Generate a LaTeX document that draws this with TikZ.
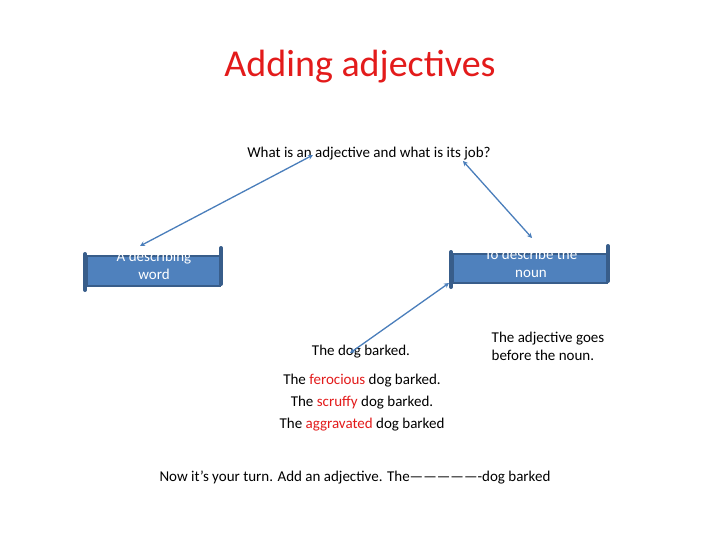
\documentclass[tikz,border=0pt]{standalone}
\usepackage{fontspec}
\setmainfont{Carlito}
\usetikzlibrary{arrows.meta}
\definecolor{scb}{HTML}{4F81BD}
\definecolor{scd}{HTML}{385D8A}
\definecolor{ln}{HTML}{4A7EBB}
\definecolor{tred}{HTML}{E31B1B}
\tikzset{txt/.style={inner sep=0pt,align=center,font=\fontsize{15}{18}\selectfont},
 conn/.style={ln,line width=1.3pt,{Stealth[length=5pt,width=5pt]}-{Stealth[length=5pt,width=5pt]}}}
\newcommand{\scrollbox}[5]{% x1 y1 x2 y2 name
 \fill[scb,draw=scd,line width=2.5pt] (#1+5,#2+8) rectangle (#3-3,#4-4);
 \draw[scd,line width=4pt,line cap=round] (#1+3,#2+6) -- (#1+3,#4);
 \draw[scd,line width=4pt,line cap=round] (#3-2,#2) -- (#3-2,#4-6);
 \coordinate (#5) at ({(#1+#3)/2},{(#2+#4)/2});
}
\begin{document}
\begin{tikzpicture}[x=1pt,y=-1pt]
\useasboundingbox[fill=white] (0,0) rectangle (720,540);
\node[txt,tred,font=\fontsize{38}{44}\selectfont] (title) at (360,67) {Adding adjectives};
\node[txt] (q) at (369,154) {What is an adjective and what is its job?};
\scrollbox{82}{248}{223}{290}{lb}
\scrollbox{448}{246}{610}{287}{rb}
\node[txt,white,anchor=north] (lt) at (154,251) {A describing\\word};
\node[txt,white,anchor=north] (rt) at (531,249) {To describe the\\noun};
\node[txt] (s1) at (361,352) {The dog barked.};
\node[txt,align=left] (s2) at (548,346) {The adjective goes\\before the noun.};
\node[txt,font=\fontsize{15}{22}\selectfont] (s3) at (362,403) {The \textcolor{tred}{ferocious} dog barked.\\The \textcolor{tred}{scruffy} dog barked.\\The \textcolor{tred}{aggravated} dog barked};
\node[txt] (s4) at (355,477) {Now it’s your turn. Add an adjective. The----------------dog barked};
\coordinate (a1) at (313,155); \coordinate (a2) at (140,246);
\coordinate (b1) at (463,161); \coordinate (b2) at (532,238);
\coordinate (c1) at (449,283); \coordinate (c2) at (350,353);
\draw[conn] (a1) -- (a2);
\draw[conn] (b1) -- (b2);
\draw[conn] (c1) -- (c2);
\end{tikzpicture}
\end{document}
